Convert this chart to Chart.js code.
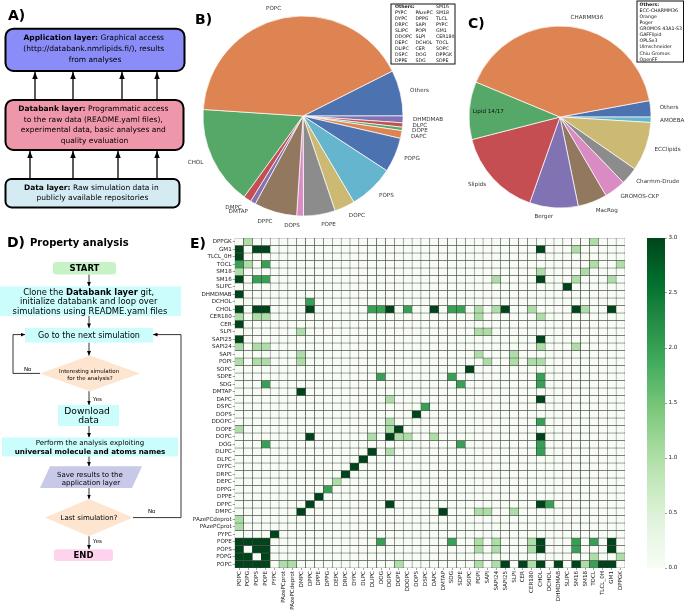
<!DOCTYPE html>
<html>
<head>
<meta charset="utf-8">
<script src="https://cdn.jsdelivr.net/npm/chart.js@4.4.1/dist/chart.umd.min.js"></script>
<style>
  html, body { margin: 0; padding: 0; background: #fff; }
  #page { position: relative; width: 685px; height: 615px; overflow: hidden; }
  canvas { position: absolute; }
  #overlay { position: absolute; left: 0; top: 0; }
</style>
</head>
<body>
<div id="page">
  <canvas id="pieLipids" width="306" height="232" style="left:150px;top:0px"></canvas>
  <canvas id="pieFF" width="250" height="234" style="left:435px;top:0px"></canvas>
  <canvas id="heatmap" width="453" height="385" style="left:180px;top:230px"></canvas>
  <canvas id="colorbar" width="45" height="344" style="left:640px;top:230px"></canvas>
  <svg id="overlay" width="685" height="615" viewBox="0 0 685 615" font-family="DejaVu Sans, sans-serif">
    <defs>
      <marker id="headA" viewBox="0 0 14 11" refX="14" refY="5.5" markerWidth="7" markerHeight="5.5" markerUnits="userSpaceOnUse" orient="auto"><path d="M0,0L14,5.5L0,11z" fill="#000"/></marker>
      <marker id="headD" viewBox="0 0 9 8" refX="9" refY="4" markerWidth="4.5" markerHeight="4" markerUnits="userSpaceOnUse" orient="auto"><path d="M0,0L9,4L0,8z" fill="#000"/></marker>
    </defs>

    <!-- panel letters -->
    <text x="8" y="20" font-size="14" font-weight="bold">A)</text>
    <text x="195" y="24" font-size="14" font-weight="bold">B)</text>
    <text x="468" y="27.5" font-size="14" font-weight="bold">C)</text>
    <text x="7" y="247" font-size="14" font-weight="bold">D)</text>
    <text x="30" y="246" font-size="10" font-weight="bold">Property analysis</text>
    <text x="190" y="248" font-size="14" font-weight="bold">E)</text>

    <!-- A) layers -->
    <rect x="5.5" y="28.7" width="179" height="42.3" rx="8" fill="#8a8cf7" stroke="#000" stroke-width="2"/>
    <text font-size="7.5" text-anchor="middle">
      <tspan x="95" y="40.1"><tspan font-weight="bold">Application layer:</tspan> Graphical access</tspan>
      <tspan x="95" y="51.1">(http://databank.nmrlipids.fi/), results</tspan>
      <tspan x="95" y="61.8">from analyses</tspan>
    </text>
    <g stroke="#000" stroke-width="1.3" marker-end="url(#headA)">
      <line x1="35" y1="99" x2="35" y2="72"/>
      <line x1="73" y1="99" x2="73" y2="72"/>
      <line x1="122" y1="99" x2="122" y2="72"/>
      <line x1="157" y1="99" x2="157" y2="72"/>
    </g>
    <rect x="5.5" y="99.9" width="178" height="50.1" rx="8" fill="#ef97aa" stroke="#000" stroke-width="2"/>
    <text font-size="7.5" text-anchor="middle">
      <tspan x="94.5" y="111.3"><tspan font-weight="bold">Databank layer:</tspan> Programmatic access</tspan>
      <tspan x="94.5" y="121.6">to the raw data (README.yaml files),</tspan>
      <tspan x="94.5" y="132.3">experimental data, basic analyses and</tspan>
      <tspan x="94.5" y="142.9">quality evaluation</tspan>
    </text>
    <g stroke="#000" stroke-width="1.3" marker-end="url(#headA)">
      <line x1="30" y1="178" x2="30" y2="151"/>
      <line x1="73" y1="178" x2="73" y2="151"/>
      <line x1="118" y1="178" x2="118" y2="151"/>
      <line x1="157" y1="178" x2="157" y2="151"/>
    </g>
    <rect x="5.5" y="178.9" width="174" height="28.5" rx="6" fill="#d5ebf3" stroke="#000" stroke-width="2"/>
    <text font-size="7.5" text-anchor="middle">
      <tspan x="92.5" y="189.6"><tspan font-weight="bold">Data layer:</tspan> Raw simulation data in</tspan>
      <tspan x="92.5" y="200.3">publicly available repositories</tspan>
    </text>

    <!-- D) flow chart -->
    <rect x="53" y="262" width="63" height="12.6" rx="3" fill="#c6f2c6"/>
    <text x="84.5" y="271.4" font-size="8.5" font-weight="bold" text-anchor="middle">START</text>
    <g stroke="#000" stroke-width="0.8" fill="none" marker-end="url(#headD)">
      <line x1="89" y1="274.6" x2="89" y2="286.4"/>
      <line x1="89" y1="316" x2="89" y2="327.9"/>
      <line x1="89" y1="342.5" x2="89" y2="355.6"/>
      <line x1="89" y1="391.2" x2="89" y2="405"/>
      <line x1="89" y1="426" x2="89" y2="437.4"/>
      <line x1="89" y1="456.4" x2="89" y2="466.3"/>
      <line x1="89" y1="488" x2="89" y2="499"/>
      <line x1="89" y1="536.2" x2="89" y2="549.3"/>
      <polyline points="40,373.4 13,373.4 13,334.6 25,334.6"/>
      <polyline points="133,517.6 181,517.6 181,334.6 153,334.6"/>
    </g>
    <rect x="0" y="286.4" width="181" height="29.6" fill="#ccfdfd"/>
    <text font-size="8.4" text-anchor="middle">
      <tspan x="90" y="295.3">Clone the <tspan font-weight="bold">Databank layer</tspan> git,</tspan>
      <tspan x="90" y="304.4">initialize databank and loop over</tspan>
      <tspan x="90" y="314.1">simulations using README.yaml files</tspan>
    </text>
    <rect x="25" y="327.9" width="128" height="14.6" fill="#ccfdfd"/>
    <text x="89" y="338" font-size="8" text-anchor="middle">Go to the next simulation</text>
    <polygon points="90,355.6 140,373.4 90,391.2 40,373.4" fill="#fde5cf"/>
    <text font-size="5.5" text-anchor="middle">
      <tspan x="90" y="373.4">Interesting simulation</tspan>
      <tspan x="90" y="380.1">for the analysis?</tspan>
    </text>
    <text x="24" y="370.6" font-size="5.5">No</text>
    <text x="93" y="401" font-size="5.5">Yes</text>
    <rect x="58" y="405" width="61" height="21" fill="#ccfdfd"/>
    <text font-size="9.2" text-anchor="middle">
      <tspan x="88.5" y="414.2">Download</tspan>
      <tspan x="88.5" y="423.4">data</tspan>
    </text>
    <rect x="2" y="437.4" width="176" height="19" fill="#ccfdfd"/>
    <text x="90" y="445" font-size="7" text-anchor="middle">Perform the analysis exploiting</text>
    <text x="90" y="454.2" font-size="7.2" font-weight="bold" text-anchor="middle">universal molecule and atoms names</text>
    <polygon points="50,466.3 142,466.3 132,488 40,488" fill="#c8c8e8"/>
    <text font-size="7" text-anchor="middle">
      <tspan x="91" y="476.7">Save results to the</tspan>
      <tspan x="91" y="485.4">application layer</tspan>
    </text>
    <polygon points="89,499 133,517.6 89,536.2 45,517.6" fill="#fde5cf"/>
    <text x="89" y="520.1" font-size="7" text-anchor="middle">Last simulation?</text>
    <text x="148" y="513" font-size="5.5">No</text>
    <text x="93" y="543.4" font-size="5.5">Yes</text>
    <rect x="54" y="549.3" width="59" height="11.8" rx="3" fill="#ffd3ee"/>
    <text x="83.5" y="558.3" font-size="8.5" font-weight="bold" text-anchor="middle">END</text>

    <!-- "Others" boxes -->
    <rect x="391" y="4" width="64" height="60" fill="#fff" stroke="#111" stroke-width="1"/>
    <g id="othersLipidsText" font-size="4.7" fill="#111"></g>
    <rect x="637" y="1" width="46.5" height="61" fill="#fff" stroke="#111" stroke-width="1"/>
    <g id="othersFFText" font-size="4.7" fill="#111"></g>
  </svg>
</div>
<script>
// lipid order used on both heatmap axes (x left->right, y bottom->top)
const lipidOrder = ['POPC', 'POPG', 'POPS', 'POPE', 'PYPC', 'PAzePCprot', 'PAzePCdeprot', 'DMPC',
  'DPPC', 'DPPE', 'DPPG', 'DEPC', 'DRPC', 'DYPC', 'DLPC', 'DLIPC', 'DOG', 'DOPC', 'DOPE', 'DDOPC',
  'DOPS', 'DSPC', 'DAPC', 'DMTAP', 'SDG', 'SDPE', 'SOPC', 'POPI', 'SAPI', 'SAPI24', 'SAPI25', 'SLPI',
  'CER', 'CER180', 'CHOL', 'DCHOL', 'DHMDMAB', 'SLIPC', 'SM16', 'SM18', 'TOCL', 'TLCL_0H', 'GM1', 'DPPGK'];

// heatmap levels (0..3), one string per row as seen from top (DPPGK) to bottom (POPC)
const pairRows = [
  '0100 0000 0000 0000 0000 0000 0000 0000 0000 0000 1000', // DPPGK
  '3033 0000 0000 0000 0000 0000 0000 0000 0030 0010 0000', // GM1
  '3000 0000 0000 0000 0000 0000 0000 0000 0000 0000 0000', // TLCL_0H
  '2102 0000 0000 0000 0000 0000 0000 0000 0000 0000 1001', // TOCL
  '1000 0000 0000 0000 0000 0000 0000 0000 0010 0001 0000', // SM18
  '3022 0000 0000 0000 0000 0000 0000 0100 0030 0010 0010', // SM16
  '0000 0000 0000 0000 0000 0000 0000 0000 0000 0300 0000', // SLIPC
  '3000 0000 0000 0000 0000 0000 0000 0000 0000 0000 0000', // DHMDMAB
  '0000 0000 2000 0000 0000 0000 0000 0000 0000 0000 0000', // DCHOL
  '3033 0000 3000 0002 2302 0030 2201 0130 0100 0031 0030', // CHOL
  '1011 0000 0000 0000 0000 0000 0001 0000 0010 0000 0000', // CER180
  '3000 0000 0000 0000 0000 0000 0000 0000 0000 0000 0000', // CER
  '0000 0001 0000 0000 0000 0000 0001 1000 0000 0000 0000', // SLPI
  '3000 0000 0000 0000 0000 0000 0000 0000 0030 0000 0000', // SAPI25
  '1011 0000 0000 0000 0000 0000 0000 0000 0010 0010 0000', // SAPI24
  '0000 0001 0000 0000 0000 0000 0001 0001 0000 0000 0000', // SAPI
  '1011 0001 0000 0000 0000 0000 0000 1001 0110 0000 0000', // POPI
  '0000 0000 0000 0000 0000 0000 0030 0000 0000 0000 0000', // SOPC
  '0000 0000 0000 0000 2000 0000 2000 0000 0020 0000 0000', // SDPE
  '0002 0000 0000 0000 0000 0000 0200 0000 0020 0000 0000', // SDG
  '0000 0003 0000 0000 0000 0000 0000 0000 0000 0000 0000', // DMTAP
  '0000 0000 0000 0000 0100 0000 0000 0000 0030 0000 0000', // DAPC
  '0000 0000 0000 0000 0000 0200 0000 0000 0000 0000 0000', // DSPC
  '0000 0000 0000 0000 0000 3000 0000 0000 0000 0000 0000', // DOPS
  '0000 0000 0000 0000 0100 0000 0000 0000 0020 0000 0000', // DDOPC
  '1000 0000 0000 0000 0130 0000 0000 0000 0000 0000 0000', // DOPE
  '0000 0000 3000 0001 0311 0010 0000 0000 0030 0000 0000', // DOPC
  '0002 0000 0000 0000 0000 0000 0200 0000 0020 0000 0000', // DOG
  '0000 0000 0000 0003 0100 0000 0000 0000 0020 0000 0000', // DLIPC
  '0000 0000 0000 0030 0000 0000 0000 0000 0000 0000 0000', // DLPC
  '0000 0000 0000 0300 0000 0000 0000 0000 0000 0000 0000', // DYPC
  '0000 0000 0000 3000 0000 0000 0000 0000 0000 0000 0000', // DRPC
  '0000 0000 0001 0000 0000 0000 0000 0000 0000 0000 0000', // DEPC
  '0000 0000 0020 0000 0000 0000 0000 0000 0000 0000 0000', // DPPG
  '0000 0000 0300 0000 0000 0000 0000 0000 0000 0000 0000', // DPPE
  '0000 0000 3000 0000 0300 0000 0000 0000 0032 0000 0000', // DPPC
  '0000 0003 0000 0000 0000 0003 0001 1001 0000 0000 0000', // DMPC
  '1000 0000 0000 0000 0000 0000 0000 0000 0000 0000 0000', // PAzePCdeprot
  '1000 0000 0000 0000 0000 0000 0000 0000 0000 0000 0000', // PAzePCprot
  '0000 3000 0000 0000 0000 0000 0000 0000 0000 0000 0000', // PYPC
  '3333 0000 0000 0000 2000 0000 2001 0100 0130 0020 2030', // POPE
  '3033 0000 0000 0000 0000 0000 0001 0100 0130 0020 0030', // POPS
  '3303 0000 0000 0000 0000 0000 0000 0000 0000 0000 1001', // POPG
  '3333 0110 0000 0000 0010 0000 0001 0130 3130 3031 2330'  // POPC
];
const colorbarTicks = [0, 0.5, 1, 1.5, 2, 2.5, 3];

// B) lipid composition, clockwise from the "Others" wedge
const lipidSlices = ['Others', 'DHMDMAB', 'DLPC', 'DOPE', 'DAPC', 'POPG', 'POPS', 'DOPC', 'POPE',
  'DOPS', 'DPPC', 'DMTAP', 'DMPC', 'CHOL', 'POPC'];
const lipidShares = [7.4, 1.1, 0.7, 0.55, 1.25, 5.6, 7.3, 3.3, 5.1, 1.1, 6.9, 0.85, 1.25, 16.0, 41.5];
const otherLipidCols = [
  ['Others:', 'PYPC', 'DYPC', 'DRPC', 'SLIPC', 'DDOPC', 'DEPC', 'DLIPC', 'DSPC', 'DPPE'],
  ['', 'PAzePC', 'DPPG', 'SAPI', 'POPI', 'SLPI', 'DCHOL', 'CER', 'DOG', 'SDG'],
  ['SM16', 'SM18', 'TLCL', 'PYPC', 'GM1', 'CER180', 'TOCL', 'SOPC', 'DPPGK', 'SDPE']
];

// C) force fields, clockwise from the "Others" wedge
const ffSlices = ['Others', 'AMOEBA', 'ECClipids', 'Charmm-Drude', 'GROMOS-CKP', 'MacRog', 'Berger',
  'Slipids', 'Lipid 14/17', 'CHARMM36'];
const ffShares = [2.9, 0.95, 8.7, 3.1, 3.8, 5.2, 8.6, 15.6, 10.25, 40.8];
const otherFFs = ['Others:', 'ECC-CHARMM36', 'Orange', 'Poger', 'GROMOS 43A1-S3', 'GAFFlipid',
  'OPLSe3', 'Ulmschneider', 'Chiu Gromos', 'OpenFF'];

// colours
const deep = { blue: '#4c72b0', orange: '#dd8452', green: '#55a868', red: '#c44e52', purple: '#8172b3',
  brown: '#937860', pink: '#da8bc3', gray: '#8c8c8c', olive: '#ccb974', cyan: '#64b5cd' };
const lipidColors = [deep.blue, deep.purple, deep.red, deep.green, deep.orange, deep.blue, deep.cyan,
  deep.olive, deep.gray, deep.pink, deep.brown, deep.purple, deep.red, deep.green, deep.orange];
const ffColors = [deep.blue, deep.cyan, deep.olive, deep.gray, deep.pink, deep.brown, deep.purple,
  deep.red, deep.green, deep.orange];
const levelColors = ['#f7fcf5', '#aedea7', '#37a055', '#00441b'];
const greensStops = ['#f7fcf5', '#e5f5e0', '#c7e9c0', '#a1d99b', '#74c476', '#41ab5d', '#238b45', '#006d2c', '#00441b'];

const tickFont = { family: 'DejaVu Sans', size: 5.6 };
const svgNS = 'http://www.w3.org/2000/svg';

function addSvgText(group, x, y, str, bold) {
    const t = document.createElementNS(svgNS, 'text');
    t.setAttribute('x', x);
    t.setAttribute('y', y);
    if (bold) t.setAttribute('font-weight', 'bold');
    t.textContent = str;
    group.appendChild(t);
}

function renderOthersBoxes() {
    const g1 = document.getElementById('othersLipidsText');
    const colX = [395, 415.5, 436];
    otherLipidCols.forEach((col, c) => {
        col.forEach((name, r) => addSvgText(g1, colX[c], 8.4 + 6 * r, name, name === 'Others:'));
    });
    const g2 = document.getElementById('othersFFText');
    otherFFs.forEach((name, r) => addSvgText(g2, 639.5, 5.7 + 6.1 * r, name, name === 'Others:'));
}

// draws wedge names the way matplotlib does (1.1 x radius, aligned by side)
const pieLabels = {
    id: 'pieLabels',
    afterDatasetsDraw(chart, args, opts) {
        const ctx = chart.ctx;
        const meta = chart.getDatasetMeta(0);
        ctx.save();
        ctx.font = '5.6px "DejaVu Sans"';
        ctx.textBaseline = 'middle';
        meta.data.forEach((arc, i) => {
            const label = chart.data.labels[i];
            const mid = (arc.startAngle + arc.endAngle) / 2;
            const inside = (opts.inside || []).includes(label);
            const dist = arc.outerRadius * (inside ? 0.79 : 1.1);
            const x = arc.x + Math.cos(mid) * dist;
            const y = arc.y + Math.sin(mid) * dist;
            ctx.fillStyle = inside ? '#111' : '#333';
            ctx.textAlign = inside ? 'center' : (Math.cos(mid) > 0 ? 'left' : 'right');
            ctx.fillText(label, x, y);
        });
        ctx.restore();
    }
};

function renderPie(id, labels, values, colors, rotation, radius, inside) {
    return new Chart(document.getElementById(id), {
        type: 'pie',
        data: {
            labels: labels,
            datasets: [{
                data: values,
                backgroundColor: colors,
                borderColor: '#ffffff',
                borderWidth: 0.7
            }]
        },
        options: {
            responsive: false,
            animation: false,
            events: [],
            rotation: rotation,
            radius: radius,
            layout: { padding: 0 },
            plugins: {
                legend: { display: false },
                tooltip: { enabled: false },
                pieLabels: { inside: inside || [] }
            }
        },
        plugins: [pieLabels]
    });
}

function renderHeatmap() {
    const n = lipidOrder.length;
    const datasets = pairRows.map((row, i) => {
        const levels = row.replace(/ /g, '').split('').map(Number);
        const yv = n - 1 - i;
        return {
            data: levels.map(() => [yv - 0.5, yv + 0.5]),
            backgroundColor: levels.map(v => levelColors[v]),
            borderColor: '#333',
            borderWidth: 0.5,
            borderSkipped: false,
            grouped: false,
            barPercentage: 1,
            categoryPercentage: 1
        };
    });
    const tickGrid = { display: true, drawOnChartArea: false, drawTicks: true, tickLength: 2,
        offset: false, color: '#444', lineWidth: 0.5 };

    new Chart(document.getElementById('heatmap'), {
        type: 'bar',
        data: { labels: lipidOrder, datasets: datasets },
        options: {
            responsive: false,
            animation: false,
            events: [],
            layout: { padding: { top: 8, right: 8, left: 0, bottom: 0 } },
            plugins: { legend: { display: false }, tooltip: { enabled: false } },
            scales: {
                x: {
                    type: 'category',
                    offset: true,
                    ticks: { autoSkip: false, minRotation: 90, maxRotation: 90, font: tickFont, color: '#222', padding: 1 },
                    grid: tickGrid,
                    border: { display: false },
                    afterFit: s => { s.height = 47; }
                },
                y: {
                    type: 'linear',
                    min: -0.5,
                    max: n - 0.5,
                    afterBuildTicks: s => { s.ticks = lipidOrder.map((_, i) => ({ value: i })); },
                    ticks: { autoSkip: false, callback: v => lipidOrder[v], font: tickFont, color: '#222', padding: 1 },
                    grid: tickGrid,
                    border: { display: false },
                    afterFit: s => { s.width = 54.7; }
                }
            }
        }
    });
}

function renderColorbar() {
    new Chart(document.getElementById('colorbar'), {
        type: 'bar',
        data: {
            labels: [''],
            datasets: [{
                data: [[colorbarTicks[0], colorbarTicks[colorbarTicks.length - 1]]],
                backgroundColor: (context) => {
                    const area = context.chart.chartArea;
                    if (!area) return levelColors[0];
                    const g = context.chart.ctx.createLinearGradient(0, area.bottom, 0, area.top);
                    greensStops.forEach((c, i) => g.addColorStop(i / (greensStops.length - 1), c));
                    return g;
                },
                borderWidth: 0,
                barPercentage: 1,
                categoryPercentage: 1
            }]
        },
        options: {
            responsive: false,
            animation: false,
            events: [],
            layout: { padding: { left: 7, top: 8, bottom: 6, right: 0 } },
            plugins: { legend: { display: false }, tooltip: { enabled: false } },
            scales: {
                x: { display: false },
                y: {
                    position: 'right',
                    min: colorbarTicks[0],
                    max: colorbarTicks[colorbarTicks.length - 1],
                    afterBuildTicks: s => { s.ticks = colorbarTicks.map(v => ({ value: v })); },
                    ticks: { callback: v => v.toFixed(1), font: tickFont, color: '#222', padding: 1.5 },
                    grid: { drawOnChartArea: false, drawTicks: true, tickLength: 2, color: '#444', lineWidth: 0.5 },
                    border: { display: false },
                    afterFit: s => { s.width = 20; }
                }
            }
        }
    });
}

renderOthersBoxes();
renderPie('pieLipids', lipidSlices, lipidShares, lipidColors, 63.3, 100);
renderPie('pieFF', ffSlices, ffShares, ffColors, 79.6, 91, ['Lipid 14/17']);
renderHeatmap();
renderColorbar();
</script>
</body>
</html>
